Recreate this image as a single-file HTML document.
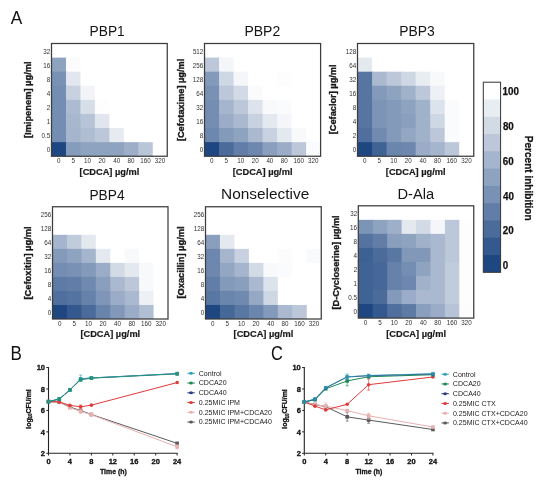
<!DOCTYPE html><html><head><meta charset="utf-8"><style>html,body{margin:0;padding:0;background:#fff;width:550px;height:480px;overflow:hidden}svg{display:block;will-change:transform}text{font-family:"Liberation Sans",sans-serif}</style></head><body>
<svg width="550" height="480" viewBox="0 0 550 480">
<rect width="550" height="480" fill="#fff"/>
<text x="10.80" y="23.75" font-size="19" font-weight="normal" fill="#111" textLength="11.54" lengthAdjust="spacingAndGlyphs" >A</text>
<text x="10.54" y="359.80" font-size="19.5" font-weight="normal" fill="#111" textLength="11.35" lengthAdjust="spacingAndGlyphs" >B</text>
<text x="271.08" y="359.70" font-size="19.5" font-weight="normal" fill="#111" textLength="11.83" lengthAdjust="spacingAndGlyphs" >C</text>
<clipPath id="cPBP1"><rect x="51.50" y="43.50" width="115.75" height="112.75"/></clipPath><g clip-path="url(#cPBP1)">
<rect x="51.50" y="43.50" width="15.47" height="15.09" fill="#ffffff"/>
<rect x="65.97" y="43.50" width="15.47" height="15.09" fill="#ffffff"/>
<rect x="80.44" y="43.50" width="15.47" height="15.09" fill="#ffffff"/>
<rect x="94.91" y="43.50" width="15.47" height="15.09" fill="#ffffff"/>
<rect x="109.38" y="43.50" width="15.47" height="15.09" fill="#ffffff"/>
<rect x="123.84" y="43.50" width="15.47" height="15.09" fill="#ffffff"/>
<rect x="138.31" y="43.50" width="15.47" height="15.09" fill="#ffffff"/>
<rect x="152.78" y="43.50" width="15.47" height="15.09" fill="#ffffff"/>
<rect x="51.50" y="57.59" width="15.47" height="15.09" fill="#8ea3c0"/>
<rect x="65.97" y="57.59" width="15.47" height="15.09" fill="#fcfcfd"/>
<rect x="80.44" y="57.59" width="15.47" height="15.09" fill="#ffffff"/>
<rect x="94.91" y="57.59" width="15.47" height="15.09" fill="#ffffff"/>
<rect x="109.38" y="57.59" width="15.47" height="15.09" fill="#ffffff"/>
<rect x="123.84" y="57.59" width="15.47" height="15.09" fill="#ffffff"/>
<rect x="138.31" y="57.59" width="15.47" height="15.09" fill="#ffffff"/>
<rect x="152.78" y="57.59" width="15.47" height="15.09" fill="#ffffff"/>
<rect x="51.50" y="71.69" width="15.47" height="15.09" fill="#7891b4"/>
<rect x="65.97" y="71.69" width="15.47" height="15.09" fill="#e2e7ef"/>
<rect x="80.44" y="71.69" width="15.47" height="15.09" fill="#ffffff"/>
<rect x="94.91" y="71.69" width="15.47" height="15.09" fill="#ffffff"/>
<rect x="109.38" y="71.69" width="15.47" height="15.09" fill="#ffffff"/>
<rect x="123.84" y="71.69" width="15.47" height="15.09" fill="#ffffff"/>
<rect x="138.31" y="71.69" width="15.47" height="15.09" fill="#ffffff"/>
<rect x="152.78" y="71.69" width="15.47" height="15.09" fill="#ffffff"/>
<rect x="51.50" y="85.78" width="15.47" height="15.09" fill="#748db2"/>
<rect x="65.97" y="85.78" width="15.47" height="15.09" fill="#c7d1e0"/>
<rect x="80.44" y="85.78" width="15.47" height="15.09" fill="#f2f4f8"/>
<rect x="94.91" y="85.78" width="15.47" height="15.09" fill="#ffffff"/>
<rect x="109.38" y="85.78" width="15.47" height="15.09" fill="#ffffff"/>
<rect x="123.84" y="85.78" width="15.47" height="15.09" fill="#ffffff"/>
<rect x="138.31" y="85.78" width="15.47" height="15.09" fill="#ffffff"/>
<rect x="152.78" y="85.78" width="15.47" height="15.09" fill="#ffffff"/>
<rect x="51.50" y="99.88" width="15.47" height="15.09" fill="#748db2"/>
<rect x="65.97" y="99.88" width="15.47" height="15.09" fill="#acbbd1"/>
<rect x="80.44" y="99.88" width="15.47" height="15.09" fill="#d6dee8"/>
<rect x="94.91" y="99.88" width="15.47" height="15.09" fill="#fdfdfe"/>
<rect x="109.38" y="99.88" width="15.47" height="15.09" fill="#ffffff"/>
<rect x="123.84" y="99.88" width="15.47" height="15.09" fill="#ffffff"/>
<rect x="138.31" y="99.88" width="15.47" height="15.09" fill="#ffffff"/>
<rect x="152.78" y="99.88" width="15.47" height="15.09" fill="#ffffff"/>
<rect x="51.50" y="113.97" width="15.47" height="15.09" fill="#748db2"/>
<rect x="65.97" y="113.97" width="15.47" height="15.09" fill="#a7b7ce"/>
<rect x="80.44" y="113.97" width="15.47" height="15.09" fill="#b7c4d7"/>
<rect x="94.91" y="113.97" width="15.47" height="15.09" fill="#e0e5ee"/>
<rect x="109.38" y="113.97" width="15.47" height="15.09" fill="#ffffff"/>
<rect x="123.84" y="113.97" width="15.47" height="15.09" fill="#ffffff"/>
<rect x="138.31" y="113.97" width="15.47" height="15.09" fill="#ffffff"/>
<rect x="152.78" y="113.97" width="15.47" height="15.09" fill="#ffffff"/>
<rect x="51.50" y="128.06" width="15.47" height="15.09" fill="#748db2"/>
<rect x="65.97" y="128.06" width="15.47" height="15.09" fill="#a5b5cd"/>
<rect x="80.44" y="128.06" width="15.47" height="15.09" fill="#aebdd2"/>
<rect x="94.91" y="128.06" width="15.47" height="15.09" fill="#bcc8da"/>
<rect x="109.38" y="128.06" width="15.47" height="15.09" fill="#e6ebf1"/>
<rect x="123.84" y="128.06" width="15.47" height="15.09" fill="#ffffff"/>
<rect x="138.31" y="128.06" width="15.47" height="15.09" fill="#ffffff"/>
<rect x="152.78" y="128.06" width="15.47" height="15.09" fill="#ffffff"/>
<rect x="51.50" y="142.16" width="15.47" height="15.09" fill="#1e4782"/>
<rect x="65.97" y="142.16" width="15.47" height="15.09" fill="#869cbc"/>
<rect x="80.44" y="142.16" width="15.47" height="15.09" fill="#8ea3c0"/>
<rect x="94.91" y="142.16" width="15.47" height="15.09" fill="#8ea3c0"/>
<rect x="109.38" y="142.16" width="15.47" height="15.09" fill="#8ea3c0"/>
<rect x="123.84" y="142.16" width="15.47" height="15.09" fill="#9caec8"/>
<rect x="138.31" y="142.16" width="15.47" height="15.09" fill="#b9c6d8"/>
<rect x="152.78" y="142.16" width="15.47" height="15.09" fill="#ffffff"/>
</g>
<rect x="51.50" y="43.50" width="115.75" height="112.75" fill="none" stroke="#3c3c3c" stroke-width="1.25"/>
<text x="89.60" y="35.55" font-size="15.2" font-weight="normal" fill="#151515" textLength="35.15" lengthAdjust="spacingAndGlyphs" >PBP1</text>
<text x="43.36" y="53.50" font-size="7.2" font-weight="normal" fill="#303030" textLength="6.97" lengthAdjust="spacingAndGlyphs" >32</text>
<text x="43.30" y="67.59" font-size="7.2" font-weight="normal" fill="#303030" textLength="6.97" lengthAdjust="spacingAndGlyphs" >16</text>
<text x="46.77" y="81.68" font-size="7.2" font-weight="normal" fill="#303030" textLength="3.48" lengthAdjust="spacingAndGlyphs" >8</text>
<text x="46.71" y="95.78" font-size="7.2" font-weight="normal" fill="#303030" textLength="3.48" lengthAdjust="spacingAndGlyphs" >4</text>
<text x="46.84" y="109.87" font-size="7.2" font-weight="normal" fill="#303030" textLength="3.48" lengthAdjust="spacingAndGlyphs" >2</text>
<text x="46.81" y="123.97" font-size="7.2" font-weight="normal" fill="#303030" textLength="3.48" lengthAdjust="spacingAndGlyphs" >1</text>
<text x="41.54" y="138.06" font-size="7.2" font-weight="normal" fill="#303030" textLength="8.71" lengthAdjust="spacingAndGlyphs" >0.5</text>
<text x="46.74" y="152.15" font-size="7.2" font-weight="normal" fill="#303030" textLength="3.48" lengthAdjust="spacingAndGlyphs" >0</text>
<text x="56.98" y="163.05" font-size="7.2" font-weight="normal" fill="#303030" textLength="3.48" lengthAdjust="spacingAndGlyphs" >0</text>
<text x="71.46" y="163.05" font-size="7.2" font-weight="normal" fill="#303030" textLength="3.48" lengthAdjust="spacingAndGlyphs" >5</text>
<text x="84.07" y="163.05" font-size="7.2" font-weight="normal" fill="#303030" textLength="6.97" lengthAdjust="spacingAndGlyphs" >10</text>
<text x="98.62" y="163.05" font-size="7.2" font-weight="normal" fill="#303030" textLength="6.97" lengthAdjust="spacingAndGlyphs" >20</text>
<text x="113.18" y="163.05" font-size="7.2" font-weight="normal" fill="#303030" textLength="6.97" lengthAdjust="spacingAndGlyphs" >40</text>
<text x="127.57" y="163.05" font-size="7.2" font-weight="normal" fill="#303030" textLength="6.97" lengthAdjust="spacingAndGlyphs" >80</text>
<text x="140.21" y="163.05" font-size="7.2" font-weight="normal" fill="#303030" textLength="10.45" lengthAdjust="spacingAndGlyphs" >160</text>
<text x="154.79" y="163.05" font-size="7.2" font-weight="normal" fill="#303030" textLength="10.45" lengthAdjust="spacingAndGlyphs" >320</text>
<text x="79.57" y="174.65" font-size="8.7" font-weight="bold" fill="#1a1a1a" textLength="59.75" lengthAdjust="spacingAndGlyphs" stroke="#1a1a1a" stroke-width="0.2">[CDCA] µg/ml</text>
<text x="31.10" y="138.11" font-size="8.3" font-weight="bold" fill="#1a1a1a" textLength="76.75" lengthAdjust="spacingAndGlyphs" transform="rotate(-90 31.10 138.11)" stroke="#1a1a1a" stroke-width="0.35">[Imipenem] µg/ml</text>
<clipPath id="cPBP2"><rect x="204.50" y="43.50" width="116.10" height="112.75"/></clipPath><g clip-path="url(#cPBP2)">
<rect x="204.50" y="43.50" width="15.51" height="15.09" fill="#ffffff"/>
<rect x="219.01" y="43.50" width="15.51" height="15.09" fill="#ffffff"/>
<rect x="233.53" y="43.50" width="15.51" height="15.09" fill="#ffffff"/>
<rect x="248.04" y="43.50" width="15.51" height="15.09" fill="#ffffff"/>
<rect x="262.55" y="43.50" width="15.51" height="15.09" fill="#ffffff"/>
<rect x="277.06" y="43.50" width="15.51" height="15.09" fill="#ffffff"/>
<rect x="291.58" y="43.50" width="15.51" height="15.09" fill="#ffffff"/>
<rect x="306.09" y="43.50" width="15.51" height="15.09" fill="#ffffff"/>
<rect x="204.50" y="57.59" width="15.51" height="15.09" fill="#bcc8da"/>
<rect x="219.01" y="57.59" width="15.51" height="15.09" fill="#f4f6f9"/>
<rect x="233.53" y="57.59" width="15.51" height="15.09" fill="#ffffff"/>
<rect x="248.04" y="57.59" width="15.51" height="15.09" fill="#ffffff"/>
<rect x="262.55" y="57.59" width="15.51" height="15.09" fill="#ffffff"/>
<rect x="277.06" y="57.59" width="15.51" height="15.09" fill="#ffffff"/>
<rect x="291.58" y="57.59" width="15.51" height="15.09" fill="#ffffff"/>
<rect x="306.09" y="57.59" width="15.51" height="15.09" fill="#ffffff"/>
<rect x="204.50" y="71.69" width="15.51" height="15.09" fill="#839aba"/>
<rect x="219.01" y="71.69" width="15.51" height="15.09" fill="#ced7e4"/>
<rect x="233.53" y="71.69" width="15.51" height="15.09" fill="#f4f6f9"/>
<rect x="248.04" y="71.69" width="15.51" height="15.09" fill="#ffffff"/>
<rect x="262.55" y="71.69" width="15.51" height="15.09" fill="#ffffff"/>
<rect x="277.06" y="71.69" width="15.51" height="15.09" fill="#fdfdfe"/>
<rect x="291.58" y="71.69" width="15.51" height="15.09" fill="#ffffff"/>
<rect x="306.09" y="71.69" width="15.51" height="15.09" fill="#ffffff"/>
<rect x="204.50" y="85.78" width="15.51" height="15.09" fill="#7891b4"/>
<rect x="219.01" y="85.78" width="15.51" height="15.09" fill="#bcc8da"/>
<rect x="233.53" y="85.78" width="15.51" height="15.09" fill="#d2dae6"/>
<rect x="248.04" y="85.78" width="15.51" height="15.09" fill="#fafbfc"/>
<rect x="262.55" y="85.78" width="15.51" height="15.09" fill="#ffffff"/>
<rect x="277.06" y="85.78" width="15.51" height="15.09" fill="#ffffff"/>
<rect x="291.58" y="85.78" width="15.51" height="15.09" fill="#ffffff"/>
<rect x="306.09" y="85.78" width="15.51" height="15.09" fill="#ffffff"/>
<rect x="204.50" y="99.88" width="15.51" height="15.09" fill="#748db2"/>
<rect x="219.01" y="99.88" width="15.51" height="15.09" fill="#a5b5cd"/>
<rect x="233.53" y="99.88" width="15.51" height="15.09" fill="#bcc8da"/>
<rect x="248.04" y="99.88" width="15.51" height="15.09" fill="#dde3ec"/>
<rect x="262.55" y="99.88" width="15.51" height="15.09" fill="#f8f9fb"/>
<rect x="277.06" y="99.88" width="15.51" height="15.09" fill="#fafbfc"/>
<rect x="291.58" y="99.88" width="15.51" height="15.09" fill="#ffffff"/>
<rect x="306.09" y="99.88" width="15.51" height="15.09" fill="#ffffff"/>
<rect x="204.50" y="113.97" width="15.51" height="15.09" fill="#748db2"/>
<rect x="219.01" y="113.97" width="15.51" height="15.09" fill="#9aacc7"/>
<rect x="233.53" y="113.97" width="15.51" height="15.09" fill="#aab9d0"/>
<rect x="248.04" y="113.97" width="15.51" height="15.09" fill="#c7d1e0"/>
<rect x="262.55" y="113.97" width="15.51" height="15.09" fill="#e4e9f0"/>
<rect x="277.06" y="113.97" width="15.51" height="15.09" fill="#f4f6f9"/>
<rect x="291.58" y="113.97" width="15.51" height="15.09" fill="#ffffff"/>
<rect x="306.09" y="113.97" width="15.51" height="15.09" fill="#ffffff"/>
<rect x="204.50" y="128.06" width="15.51" height="15.09" fill="#6d87ae"/>
<rect x="219.01" y="128.06" width="15.51" height="15.09" fill="#839aba"/>
<rect x="233.53" y="128.06" width="15.51" height="15.09" fill="#8ea3c0"/>
<rect x="248.04" y="128.06" width="15.51" height="15.09" fill="#aab9d0"/>
<rect x="262.55" y="128.06" width="15.51" height="15.09" fill="#c7d1e0"/>
<rect x="277.06" y="128.06" width="15.51" height="15.09" fill="#e4e9f0"/>
<rect x="291.58" y="128.06" width="15.51" height="15.09" fill="#f8f9fb"/>
<rect x="306.09" y="128.06" width="15.51" height="15.09" fill="#ffffff"/>
<rect x="204.50" y="142.16" width="15.51" height="15.09" fill="#1e4782"/>
<rect x="219.01" y="142.16" width="15.51" height="15.09" fill="#4b6c9b"/>
<rect x="233.53" y="142.16" width="15.51" height="15.09" fill="#627ea8"/>
<rect x="248.04" y="142.16" width="15.51" height="15.09" fill="#6d87ae"/>
<rect x="262.55" y="142.16" width="15.51" height="15.09" fill="#8a9fbe"/>
<rect x="277.06" y="142.16" width="15.51" height="15.09" fill="#9aacc7"/>
<rect x="291.58" y="142.16" width="15.51" height="15.09" fill="#bcc8da"/>
<rect x="306.09" y="142.16" width="15.51" height="15.09" fill="#fafbfc"/>
</g>
<rect x="204.50" y="43.50" width="116.10" height="112.75" fill="none" stroke="#3c3c3c" stroke-width="1.25"/>
<text x="244.38" y="36.00" font-size="15.2" font-weight="normal" fill="#151515" textLength="35.85" lengthAdjust="spacingAndGlyphs" >PBP2</text>
<text x="192.88" y="53.50" font-size="7.2" font-weight="normal" fill="#303030" textLength="10.45" lengthAdjust="spacingAndGlyphs" >512</text>
<text x="192.82" y="67.59" font-size="7.2" font-weight="normal" fill="#303030" textLength="10.45" lengthAdjust="spacingAndGlyphs" >256</text>
<text x="192.82" y="81.68" font-size="7.2" font-weight="normal" fill="#303030" textLength="10.45" lengthAdjust="spacingAndGlyphs" >128</text>
<text x="196.23" y="95.78" font-size="7.2" font-weight="normal" fill="#303030" textLength="6.97" lengthAdjust="spacingAndGlyphs" >64</text>
<text x="196.36" y="109.87" font-size="7.2" font-weight="normal" fill="#303030" textLength="6.97" lengthAdjust="spacingAndGlyphs" >32</text>
<text x="196.30" y="123.97" font-size="7.2" font-weight="normal" fill="#303030" textLength="6.97" lengthAdjust="spacingAndGlyphs" >16</text>
<text x="199.77" y="138.06" font-size="7.2" font-weight="normal" fill="#303030" textLength="3.48" lengthAdjust="spacingAndGlyphs" >8</text>
<text x="199.74" y="152.15" font-size="7.2" font-weight="normal" fill="#303030" textLength="3.48" lengthAdjust="spacingAndGlyphs" >0</text>
<text x="210.00" y="163.05" font-size="7.2" font-weight="normal" fill="#303030" textLength="3.48" lengthAdjust="spacingAndGlyphs" >0</text>
<text x="224.53" y="163.05" font-size="7.2" font-weight="normal" fill="#303030" textLength="3.48" lengthAdjust="spacingAndGlyphs" >5</text>
<text x="237.18" y="163.05" font-size="7.2" font-weight="normal" fill="#303030" textLength="6.97" lengthAdjust="spacingAndGlyphs" >10</text>
<text x="251.77" y="163.05" font-size="7.2" font-weight="normal" fill="#303030" textLength="6.97" lengthAdjust="spacingAndGlyphs" >20</text>
<text x="266.38" y="163.05" font-size="7.2" font-weight="normal" fill="#303030" textLength="6.97" lengthAdjust="spacingAndGlyphs" >40</text>
<text x="280.81" y="163.05" font-size="7.2" font-weight="normal" fill="#303030" textLength="6.97" lengthAdjust="spacingAndGlyphs" >80</text>
<text x="293.49" y="163.05" font-size="7.2" font-weight="normal" fill="#303030" textLength="10.45" lengthAdjust="spacingAndGlyphs" >160</text>
<text x="308.11" y="163.05" font-size="7.2" font-weight="normal" fill="#303030" textLength="10.45" lengthAdjust="spacingAndGlyphs" >320</text>
<text x="232.74" y="174.65" font-size="8.7" font-weight="bold" fill="#1a1a1a" textLength="59.75" lengthAdjust="spacingAndGlyphs" stroke="#1a1a1a" stroke-width="0.2">[CDCA] µg/ml</text>
<text x="184.10" y="141.10" font-size="8.3" font-weight="bold" fill="#1a1a1a" textLength="82.32" lengthAdjust="spacingAndGlyphs" transform="rotate(-90 184.10 141.10)" stroke="#1a1a1a" stroke-width="0.35">[Cefotaxime] µg/ml</text>
<clipPath id="cPBP3"><rect x="357.50" y="43.50" width="116.25" height="112.75"/></clipPath><g clip-path="url(#cPBP3)">
<rect x="357.50" y="43.50" width="15.53" height="15.09" fill="#ffffff"/>
<rect x="372.03" y="43.50" width="15.53" height="15.09" fill="#ffffff"/>
<rect x="386.56" y="43.50" width="15.53" height="15.09" fill="#ffffff"/>
<rect x="401.09" y="43.50" width="15.53" height="15.09" fill="#ffffff"/>
<rect x="415.62" y="43.50" width="15.53" height="15.09" fill="#ffffff"/>
<rect x="430.16" y="43.50" width="15.53" height="15.09" fill="#ffffff"/>
<rect x="444.69" y="43.50" width="15.53" height="15.09" fill="#ffffff"/>
<rect x="459.22" y="43.50" width="15.53" height="15.09" fill="#ffffff"/>
<rect x="357.50" y="57.59" width="15.53" height="15.09" fill="#e4e9f0"/>
<rect x="372.03" y="57.59" width="15.53" height="15.09" fill="#ffffff"/>
<rect x="386.56" y="57.59" width="15.53" height="15.09" fill="#ffffff"/>
<rect x="401.09" y="57.59" width="15.53" height="15.09" fill="#ffffff"/>
<rect x="415.62" y="57.59" width="15.53" height="15.09" fill="#ffffff"/>
<rect x="430.16" y="57.59" width="15.53" height="15.09" fill="#ffffff"/>
<rect x="444.69" y="57.59" width="15.53" height="15.09" fill="#ffffff"/>
<rect x="459.22" y="57.59" width="15.53" height="15.09" fill="#ffffff"/>
<rect x="357.50" y="71.69" width="15.53" height="15.09" fill="#5675a1"/>
<rect x="372.03" y="71.69" width="15.53" height="15.09" fill="#aab9d0"/>
<rect x="386.56" y="71.69" width="15.53" height="15.09" fill="#bcc8da"/>
<rect x="401.09" y="71.69" width="15.53" height="15.09" fill="#ced7e4"/>
<rect x="415.62" y="71.69" width="15.53" height="15.09" fill="#e8edf2"/>
<rect x="430.16" y="71.69" width="15.53" height="15.09" fill="#f8f9fb"/>
<rect x="444.69" y="71.69" width="15.53" height="15.09" fill="#ffffff"/>
<rect x="459.22" y="71.69" width="15.53" height="15.09" fill="#ffffff"/>
<rect x="357.50" y="85.78" width="15.53" height="15.09" fill="#5675a1"/>
<rect x="372.03" y="85.78" width="15.53" height="15.09" fill="#839aba"/>
<rect x="386.56" y="85.78" width="15.53" height="15.09" fill="#8ea3c0"/>
<rect x="401.09" y="85.78" width="15.53" height="15.09" fill="#a0b2ca"/>
<rect x="415.62" y="85.78" width="15.53" height="15.09" fill="#bcc8da"/>
<rect x="430.16" y="85.78" width="15.53" height="15.09" fill="#edf0f5"/>
<rect x="444.69" y="85.78" width="15.53" height="15.09" fill="#ffffff"/>
<rect x="459.22" y="85.78" width="15.53" height="15.09" fill="#ffffff"/>
<rect x="357.50" y="99.88" width="15.53" height="15.09" fill="#5675a1"/>
<rect x="372.03" y="99.88" width="15.53" height="15.09" fill="#7c94b6"/>
<rect x="386.56" y="99.88" width="15.53" height="15.09" fill="#839aba"/>
<rect x="401.09" y="99.88" width="15.53" height="15.09" fill="#8ea3c0"/>
<rect x="415.62" y="99.88" width="15.53" height="15.09" fill="#a0b2ca"/>
<rect x="430.16" y="99.88" width="15.53" height="15.09" fill="#dde3ec"/>
<rect x="444.69" y="99.88" width="15.53" height="15.09" fill="#fafbfc"/>
<rect x="459.22" y="99.88" width="15.53" height="15.09" fill="#ffffff"/>
<rect x="357.50" y="113.97" width="15.53" height="15.09" fill="#5675a1"/>
<rect x="372.03" y="113.97" width="15.53" height="15.09" fill="#7c94b6"/>
<rect x="386.56" y="113.97" width="15.53" height="15.09" fill="#839aba"/>
<rect x="401.09" y="113.97" width="15.53" height="15.09" fill="#8a9fbe"/>
<rect x="415.62" y="113.97" width="15.53" height="15.09" fill="#a0b2ca"/>
<rect x="430.16" y="113.97" width="15.53" height="15.09" fill="#ced7e4"/>
<rect x="444.69" y="113.97" width="15.53" height="15.09" fill="#fafbfc"/>
<rect x="459.22" y="113.97" width="15.53" height="15.09" fill="#ffffff"/>
<rect x="357.50" y="128.06" width="15.53" height="15.09" fill="#506f9e"/>
<rect x="372.03" y="128.06" width="15.53" height="15.09" fill="#718bb0"/>
<rect x="386.56" y="128.06" width="15.53" height="15.09" fill="#839aba"/>
<rect x="401.09" y="128.06" width="15.53" height="15.09" fill="#93a7c3"/>
<rect x="415.62" y="128.06" width="15.53" height="15.09" fill="#a0b2ca"/>
<rect x="430.16" y="128.06" width="15.53" height="15.09" fill="#bcc8da"/>
<rect x="444.69" y="128.06" width="15.53" height="15.09" fill="#fafbfc"/>
<rect x="459.22" y="128.06" width="15.53" height="15.09" fill="#ffffff"/>
<rect x="357.50" y="142.16" width="15.53" height="15.09" fill="#1e4782"/>
<rect x="372.03" y="142.16" width="15.53" height="15.09" fill="#406395"/>
<rect x="386.56" y="142.16" width="15.53" height="15.09" fill="#6a86ac"/>
<rect x="401.09" y="142.16" width="15.53" height="15.09" fill="#6d87ae"/>
<rect x="415.62" y="142.16" width="15.53" height="15.09" fill="#9aacc7"/>
<rect x="430.16" y="142.16" width="15.53" height="15.09" fill="#a5b5cd"/>
<rect x="444.69" y="142.16" width="15.53" height="15.09" fill="#bcc8da"/>
<rect x="459.22" y="142.16" width="15.53" height="15.09" fill="#ffffff"/>
</g>
<rect x="357.50" y="43.50" width="116.25" height="112.75" fill="none" stroke="#3c3c3c" stroke-width="1.25"/>
<text x="399.29" y="36.00" font-size="15.2" font-weight="normal" fill="#151515" textLength="35.50" lengthAdjust="spacingAndGlyphs" >PBP3</text>
<text x="345.82" y="53.50" font-size="7.2" font-weight="normal" fill="#303030" textLength="10.45" lengthAdjust="spacingAndGlyphs" >128</text>
<text x="349.23" y="67.59" font-size="7.2" font-weight="normal" fill="#303030" textLength="6.97" lengthAdjust="spacingAndGlyphs" >64</text>
<text x="349.36" y="81.68" font-size="7.2" font-weight="normal" fill="#303030" textLength="6.97" lengthAdjust="spacingAndGlyphs" >32</text>
<text x="349.30" y="95.78" font-size="7.2" font-weight="normal" fill="#303030" textLength="6.97" lengthAdjust="spacingAndGlyphs" >16</text>
<text x="352.77" y="109.87" font-size="7.2" font-weight="normal" fill="#303030" textLength="3.48" lengthAdjust="spacingAndGlyphs" >8</text>
<text x="352.71" y="123.97" font-size="7.2" font-weight="normal" fill="#303030" textLength="3.48" lengthAdjust="spacingAndGlyphs" >4</text>
<text x="352.84" y="138.06" font-size="7.2" font-weight="normal" fill="#303030" textLength="3.48" lengthAdjust="spacingAndGlyphs" >2</text>
<text x="352.74" y="152.15" font-size="7.2" font-weight="normal" fill="#303030" textLength="3.48" lengthAdjust="spacingAndGlyphs" >0</text>
<text x="363.01" y="163.05" font-size="7.2" font-weight="normal" fill="#303030" textLength="3.48" lengthAdjust="spacingAndGlyphs" >0</text>
<text x="377.56" y="163.05" font-size="7.2" font-weight="normal" fill="#303030" textLength="3.48" lengthAdjust="spacingAndGlyphs" >5</text>
<text x="390.23" y="163.05" font-size="7.2" font-weight="normal" fill="#303030" textLength="6.97" lengthAdjust="spacingAndGlyphs" >10</text>
<text x="404.84" y="163.05" font-size="7.2" font-weight="normal" fill="#303030" textLength="6.97" lengthAdjust="spacingAndGlyphs" >20</text>
<text x="419.46" y="163.05" font-size="7.2" font-weight="normal" fill="#303030" textLength="6.97" lengthAdjust="spacingAndGlyphs" >40</text>
<text x="433.91" y="163.05" font-size="7.2" font-weight="normal" fill="#303030" textLength="6.97" lengthAdjust="spacingAndGlyphs" >80</text>
<text x="446.61" y="163.05" font-size="7.2" font-weight="normal" fill="#303030" textLength="10.45" lengthAdjust="spacingAndGlyphs" >160</text>
<text x="461.25" y="163.05" font-size="7.2" font-weight="normal" fill="#303030" textLength="10.45" lengthAdjust="spacingAndGlyphs" >320</text>
<text x="385.82" y="174.65" font-size="8.7" font-weight="bold" fill="#1a1a1a" textLength="59.75" lengthAdjust="spacingAndGlyphs" stroke="#1a1a1a" stroke-width="0.2">[CDCA] µg/ml</text>
<text x="336.20" y="134.26" font-size="8.3" font-weight="bold" fill="#1a1a1a" textLength="69.88" lengthAdjust="spacingAndGlyphs" transform="rotate(-90 336.20 134.26)" stroke="#1a1a1a" stroke-width="0.35">[Cefaclor] µg/ml</text>
<clipPath id="cPBP4"><rect x="52.50" y="206.75" width="115.50" height="112.25"/></clipPath><g clip-path="url(#cPBP4)">
<rect x="52.50" y="206.75" width="15.44" height="15.03" fill="#ffffff"/>
<rect x="66.94" y="206.75" width="15.44" height="15.03" fill="#ffffff"/>
<rect x="81.38" y="206.75" width="15.44" height="15.03" fill="#ffffff"/>
<rect x="95.81" y="206.75" width="15.44" height="15.03" fill="#ffffff"/>
<rect x="110.25" y="206.75" width="15.44" height="15.03" fill="#ffffff"/>
<rect x="124.69" y="206.75" width="15.44" height="15.03" fill="#ffffff"/>
<rect x="139.12" y="206.75" width="15.44" height="15.03" fill="#ffffff"/>
<rect x="153.56" y="206.75" width="15.44" height="15.03" fill="#ffffff"/>
<rect x="52.50" y="220.78" width="15.44" height="15.03" fill="#ffffff"/>
<rect x="66.94" y="220.78" width="15.44" height="15.03" fill="#ffffff"/>
<rect x="81.38" y="220.78" width="15.44" height="15.03" fill="#ffffff"/>
<rect x="95.81" y="220.78" width="15.44" height="15.03" fill="#ffffff"/>
<rect x="110.25" y="220.78" width="15.44" height="15.03" fill="#ffffff"/>
<rect x="124.69" y="220.78" width="15.44" height="15.03" fill="#ffffff"/>
<rect x="139.12" y="220.78" width="15.44" height="15.03" fill="#ffffff"/>
<rect x="153.56" y="220.78" width="15.44" height="15.03" fill="#ffffff"/>
<rect x="52.50" y="234.81" width="15.44" height="15.03" fill="#a5b5cd"/>
<rect x="66.94" y="234.81" width="15.44" height="15.03" fill="#c0cbdc"/>
<rect x="81.38" y="234.81" width="15.44" height="15.03" fill="#e4e9f0"/>
<rect x="95.81" y="234.81" width="15.44" height="15.03" fill="#ffffff"/>
<rect x="110.25" y="234.81" width="15.44" height="15.03" fill="#ffffff"/>
<rect x="124.69" y="234.81" width="15.44" height="15.03" fill="#ffffff"/>
<rect x="139.12" y="234.81" width="15.44" height="15.03" fill="#ffffff"/>
<rect x="153.56" y="234.81" width="15.44" height="15.03" fill="#ffffff"/>
<rect x="52.50" y="248.84" width="15.44" height="15.03" fill="#839aba"/>
<rect x="66.94" y="248.84" width="15.44" height="15.03" fill="#8ea3c0"/>
<rect x="81.38" y="248.84" width="15.44" height="15.03" fill="#a5b5cd"/>
<rect x="95.81" y="248.84" width="15.44" height="15.03" fill="#e4e9f0"/>
<rect x="110.25" y="248.84" width="15.44" height="15.03" fill="#ffffff"/>
<rect x="124.69" y="248.84" width="15.44" height="15.03" fill="#f8f9fb"/>
<rect x="139.12" y="248.84" width="15.44" height="15.03" fill="#ffffff"/>
<rect x="153.56" y="248.84" width="15.44" height="15.03" fill="#ffffff"/>
<rect x="52.50" y="262.88" width="15.44" height="15.03" fill="#748db2"/>
<rect x="66.94" y="262.88" width="15.44" height="15.03" fill="#7891b4"/>
<rect x="81.38" y="262.88" width="15.44" height="15.03" fill="#839aba"/>
<rect x="95.81" y="262.88" width="15.44" height="15.03" fill="#9aacc7"/>
<rect x="110.25" y="262.88" width="15.44" height="15.03" fill="#d2dae6"/>
<rect x="124.69" y="262.88" width="15.44" height="15.03" fill="#e4e9f0"/>
<rect x="139.12" y="262.88" width="15.44" height="15.03" fill="#f8f9fb"/>
<rect x="153.56" y="262.88" width="15.44" height="15.03" fill="#ffffff"/>
<rect x="52.50" y="276.91" width="15.44" height="15.03" fill="#5d7ba5"/>
<rect x="66.94" y="276.91" width="15.44" height="15.03" fill="#627ea8"/>
<rect x="81.38" y="276.91" width="15.44" height="15.03" fill="#6f89af"/>
<rect x="95.81" y="276.91" width="15.44" height="15.03" fill="#8a9fbe"/>
<rect x="110.25" y="276.91" width="15.44" height="15.03" fill="#aab9d0"/>
<rect x="124.69" y="276.91" width="15.44" height="15.03" fill="#bcc8da"/>
<rect x="139.12" y="276.91" width="15.44" height="15.03" fill="#f8f9fb"/>
<rect x="153.56" y="276.91" width="15.44" height="15.03" fill="#ffffff"/>
<rect x="52.50" y="290.94" width="15.44" height="15.03" fill="#506f9e"/>
<rect x="66.94" y="290.94" width="15.44" height="15.03" fill="#5473a0"/>
<rect x="81.38" y="290.94" width="15.44" height="15.03" fill="#6682aa"/>
<rect x="95.81" y="290.94" width="15.44" height="15.03" fill="#7f96b8"/>
<rect x="110.25" y="290.94" width="15.44" height="15.03" fill="#9aacc7"/>
<rect x="124.69" y="290.94" width="15.44" height="15.03" fill="#aab9d0"/>
<rect x="139.12" y="290.94" width="15.44" height="15.03" fill="#edf0f5"/>
<rect x="153.56" y="290.94" width="15.44" height="15.03" fill="#ffffff"/>
<rect x="52.50" y="304.97" width="15.44" height="15.03" fill="#1e4782"/>
<rect x="66.94" y="304.97" width="15.44" height="15.03" fill="#34598e"/>
<rect x="81.38" y="304.97" width="15.44" height="15.03" fill="#4b6c9b"/>
<rect x="95.81" y="304.97" width="15.44" height="15.03" fill="#6884ab"/>
<rect x="110.25" y="304.97" width="15.44" height="15.03" fill="#8198b9"/>
<rect x="124.69" y="304.97" width="15.44" height="15.03" fill="#9aacc7"/>
<rect x="139.12" y="304.97" width="15.44" height="15.03" fill="#b0bfd3"/>
<rect x="153.56" y="304.97" width="15.44" height="15.03" fill="#ffffff"/>
</g>
<rect x="52.50" y="206.75" width="115.50" height="112.25" fill="none" stroke="#3c3c3c" stroke-width="1.25"/>
<text x="89.40" y="199.50" font-size="15.2" font-weight="normal" fill="#151515" textLength="35.14" lengthAdjust="spacingAndGlyphs" >PBP4</text>
<text x="40.82" y="216.72" font-size="7.2" font-weight="normal" fill="#303030" textLength="10.45" lengthAdjust="spacingAndGlyphs" >256</text>
<text x="40.82" y="230.75" font-size="7.2" font-weight="normal" fill="#303030" textLength="10.45" lengthAdjust="spacingAndGlyphs" >128</text>
<text x="44.23" y="244.78" font-size="7.2" font-weight="normal" fill="#303030" textLength="6.97" lengthAdjust="spacingAndGlyphs" >64</text>
<text x="44.36" y="258.81" font-size="7.2" font-weight="normal" fill="#303030" textLength="6.97" lengthAdjust="spacingAndGlyphs" >32</text>
<text x="44.30" y="272.84" font-size="7.2" font-weight="normal" fill="#303030" textLength="6.97" lengthAdjust="spacingAndGlyphs" >16</text>
<text x="47.77" y="286.87" font-size="7.2" font-weight="normal" fill="#303030" textLength="3.48" lengthAdjust="spacingAndGlyphs" >8</text>
<text x="47.71" y="300.90" font-size="7.2" font-weight="normal" fill="#303030" textLength="3.48" lengthAdjust="spacingAndGlyphs" >4</text>
<text x="47.74" y="314.93" font-size="7.2" font-weight="normal" fill="#303030" textLength="3.48" lengthAdjust="spacingAndGlyphs" >0</text>
<text x="57.96" y="325.80" font-size="7.2" font-weight="normal" fill="#303030" textLength="3.48" lengthAdjust="spacingAndGlyphs" >0</text>
<text x="72.42" y="325.80" font-size="7.2" font-weight="normal" fill="#303030" textLength="3.48" lengthAdjust="spacingAndGlyphs" >5</text>
<text x="84.99" y="325.80" font-size="7.2" font-weight="normal" fill="#303030" textLength="6.97" lengthAdjust="spacingAndGlyphs" >10</text>
<text x="99.51" y="325.80" font-size="7.2" font-weight="normal" fill="#303030" textLength="6.97" lengthAdjust="spacingAndGlyphs" >20</text>
<text x="114.04" y="325.80" font-size="7.2" font-weight="normal" fill="#303030" textLength="6.97" lengthAdjust="spacingAndGlyphs" >40</text>
<text x="128.40" y="325.80" font-size="7.2" font-weight="normal" fill="#303030" textLength="6.97" lengthAdjust="spacingAndGlyphs" >80</text>
<text x="141.00" y="325.80" font-size="7.2" font-weight="normal" fill="#303030" textLength="10.45" lengthAdjust="spacingAndGlyphs" >160</text>
<text x="155.55" y="325.80" font-size="7.2" font-weight="normal" fill="#303030" textLength="10.45" lengthAdjust="spacingAndGlyphs" >320</text>
<text x="80.44" y="337.40" font-size="8.7" font-weight="bold" fill="#1a1a1a" textLength="59.75" lengthAdjust="spacingAndGlyphs" stroke="#1a1a1a" stroke-width="0.2">[CDCA] µg/ml</text>
<text x="31.10" y="299.51" font-size="8.3" font-weight="bold" fill="#1a1a1a" textLength="73.15" lengthAdjust="spacingAndGlyphs" transform="rotate(-90 31.10 299.51)" stroke="#1a1a1a" stroke-width="0.35">[Cefoxitin] µg/ml</text>
<clipPath id="cNonselective"><rect x="205.50" y="206.75" width="115.75" height="112.25"/></clipPath><g clip-path="url(#cNonselective)">
<rect x="205.50" y="206.75" width="15.47" height="15.03" fill="#ffffff"/>
<rect x="219.97" y="206.75" width="15.47" height="15.03" fill="#ffffff"/>
<rect x="234.44" y="206.75" width="15.47" height="15.03" fill="#ffffff"/>
<rect x="248.91" y="206.75" width="15.47" height="15.03" fill="#ffffff"/>
<rect x="263.38" y="206.75" width="15.47" height="15.03" fill="#ffffff"/>
<rect x="277.84" y="206.75" width="15.47" height="15.03" fill="#ffffff"/>
<rect x="292.31" y="206.75" width="15.47" height="15.03" fill="#ffffff"/>
<rect x="306.78" y="206.75" width="15.47" height="15.03" fill="#ffffff"/>
<rect x="205.50" y="220.78" width="15.47" height="15.03" fill="#ffffff"/>
<rect x="219.97" y="220.78" width="15.47" height="15.03" fill="#ffffff"/>
<rect x="234.44" y="220.78" width="15.47" height="15.03" fill="#ffffff"/>
<rect x="248.91" y="220.78" width="15.47" height="15.03" fill="#ffffff"/>
<rect x="263.38" y="220.78" width="15.47" height="15.03" fill="#ffffff"/>
<rect x="277.84" y="220.78" width="15.47" height="15.03" fill="#ffffff"/>
<rect x="292.31" y="220.78" width="15.47" height="15.03" fill="#ffffff"/>
<rect x="306.78" y="220.78" width="15.47" height="15.03" fill="#ffffff"/>
<rect x="205.50" y="234.81" width="15.47" height="15.03" fill="#8a9fbe"/>
<rect x="219.97" y="234.81" width="15.47" height="15.03" fill="#e4e9f0"/>
<rect x="234.44" y="234.81" width="15.47" height="15.03" fill="#ffffff"/>
<rect x="248.91" y="234.81" width="15.47" height="15.03" fill="#ffffff"/>
<rect x="263.38" y="234.81" width="15.47" height="15.03" fill="#ffffff"/>
<rect x="277.84" y="234.81" width="15.47" height="15.03" fill="#ffffff"/>
<rect x="292.31" y="234.81" width="15.47" height="15.03" fill="#ffffff"/>
<rect x="306.78" y="234.81" width="15.47" height="15.03" fill="#ffffff"/>
<rect x="205.50" y="248.84" width="15.47" height="15.03" fill="#6d87ae"/>
<rect x="219.97" y="248.84" width="15.47" height="15.03" fill="#a5b5cd"/>
<rect x="234.44" y="248.84" width="15.47" height="15.03" fill="#c7d1e0"/>
<rect x="248.91" y="248.84" width="15.47" height="15.03" fill="#ffffff"/>
<rect x="263.38" y="248.84" width="15.47" height="15.03" fill="#ffffff"/>
<rect x="277.84" y="248.84" width="15.47" height="15.03" fill="#fcfcfd"/>
<rect x="292.31" y="248.84" width="15.47" height="15.03" fill="#ffffff"/>
<rect x="306.78" y="248.84" width="15.47" height="15.03" fill="#f9fafc"/>
<rect x="205.50" y="262.88" width="15.47" height="15.03" fill="#6d87ae"/>
<rect x="219.97" y="262.88" width="15.47" height="15.03" fill="#93a7c3"/>
<rect x="234.44" y="262.88" width="15.47" height="15.03" fill="#a5b5cd"/>
<rect x="248.91" y="262.88" width="15.47" height="15.03" fill="#d2dae6"/>
<rect x="263.38" y="262.88" width="15.47" height="15.03" fill="#f8f9fb"/>
<rect x="277.84" y="262.88" width="15.47" height="15.03" fill="#fafbfc"/>
<rect x="292.31" y="262.88" width="15.47" height="15.03" fill="#ffffff"/>
<rect x="306.78" y="262.88" width="15.47" height="15.03" fill="#ffffff"/>
<rect x="205.50" y="276.91" width="15.47" height="15.03" fill="#627ea8"/>
<rect x="219.97" y="276.91" width="15.47" height="15.03" fill="#839aba"/>
<rect x="234.44" y="276.91" width="15.47" height="15.03" fill="#8a9fbe"/>
<rect x="248.91" y="276.91" width="15.47" height="15.03" fill="#aab9d0"/>
<rect x="263.38" y="276.91" width="15.47" height="15.03" fill="#dde3ec"/>
<rect x="277.84" y="276.91" width="15.47" height="15.03" fill="#ffffff"/>
<rect x="292.31" y="276.91" width="15.47" height="15.03" fill="#ffffff"/>
<rect x="306.78" y="276.91" width="15.47" height="15.03" fill="#ffffff"/>
<rect x="205.50" y="290.94" width="15.47" height="15.03" fill="#5877a2"/>
<rect x="219.97" y="290.94" width="15.47" height="15.03" fill="#6a86ac"/>
<rect x="234.44" y="290.94" width="15.47" height="15.03" fill="#6f89af"/>
<rect x="248.91" y="290.94" width="15.47" height="15.03" fill="#95a9c4"/>
<rect x="263.38" y="290.94" width="15.47" height="15.03" fill="#ced7e4"/>
<rect x="277.84" y="290.94" width="15.47" height="15.03" fill="#ffffff"/>
<rect x="292.31" y="290.94" width="15.47" height="15.03" fill="#ffffff"/>
<rect x="306.78" y="290.94" width="15.47" height="15.03" fill="#ffffff"/>
<rect x="205.50" y="304.97" width="15.47" height="15.03" fill="#1e4782"/>
<rect x="219.97" y="304.97" width="15.47" height="15.03" fill="#466898"/>
<rect x="234.44" y="304.97" width="15.47" height="15.03" fill="#5877a2"/>
<rect x="248.91" y="304.97" width="15.47" height="15.03" fill="#6a86ac"/>
<rect x="263.38" y="304.97" width="15.47" height="15.03" fill="#839aba"/>
<rect x="277.84" y="304.97" width="15.47" height="15.03" fill="#aab9d0"/>
<rect x="292.31" y="304.97" width="15.47" height="15.03" fill="#bcc8da"/>
<rect x="306.78" y="304.97" width="15.47" height="15.03" fill="#ffffff"/>
</g>
<rect x="205.50" y="206.75" width="115.75" height="112.25" fill="none" stroke="#3c3c3c" stroke-width="1.25"/>
<text x="221.07" y="198.80" font-size="15.2" font-weight="normal" fill="#151515" textLength="88.23" lengthAdjust="spacingAndGlyphs" >Nonselective</text>
<text x="193.82" y="216.72" font-size="7.2" font-weight="normal" fill="#303030" textLength="10.45" lengthAdjust="spacingAndGlyphs" >256</text>
<text x="193.82" y="230.75" font-size="7.2" font-weight="normal" fill="#303030" textLength="10.45" lengthAdjust="spacingAndGlyphs" >128</text>
<text x="197.23" y="244.78" font-size="7.2" font-weight="normal" fill="#303030" textLength="6.97" lengthAdjust="spacingAndGlyphs" >64</text>
<text x="197.36" y="258.81" font-size="7.2" font-weight="normal" fill="#303030" textLength="6.97" lengthAdjust="spacingAndGlyphs" >32</text>
<text x="197.30" y="272.84" font-size="7.2" font-weight="normal" fill="#303030" textLength="6.97" lengthAdjust="spacingAndGlyphs" >16</text>
<text x="200.77" y="286.87" font-size="7.2" font-weight="normal" fill="#303030" textLength="3.48" lengthAdjust="spacingAndGlyphs" >8</text>
<text x="200.71" y="300.90" font-size="7.2" font-weight="normal" fill="#303030" textLength="3.48" lengthAdjust="spacingAndGlyphs" >4</text>
<text x="200.74" y="314.93" font-size="7.2" font-weight="normal" fill="#303030" textLength="3.48" lengthAdjust="spacingAndGlyphs" >0</text>
<text x="210.98" y="325.80" font-size="7.2" font-weight="normal" fill="#303030" textLength="3.48" lengthAdjust="spacingAndGlyphs" >0</text>
<text x="225.46" y="325.80" font-size="7.2" font-weight="normal" fill="#303030" textLength="3.48" lengthAdjust="spacingAndGlyphs" >5</text>
<text x="238.07" y="325.80" font-size="7.2" font-weight="normal" fill="#303030" textLength="6.97" lengthAdjust="spacingAndGlyphs" >10</text>
<text x="252.62" y="325.80" font-size="7.2" font-weight="normal" fill="#303030" textLength="6.97" lengthAdjust="spacingAndGlyphs" >20</text>
<text x="267.18" y="325.80" font-size="7.2" font-weight="normal" fill="#303030" textLength="6.97" lengthAdjust="spacingAndGlyphs" >40</text>
<text x="281.57" y="325.80" font-size="7.2" font-weight="normal" fill="#303030" textLength="6.97" lengthAdjust="spacingAndGlyphs" >80</text>
<text x="294.21" y="325.80" font-size="7.2" font-weight="normal" fill="#303030" textLength="10.45" lengthAdjust="spacingAndGlyphs" >160</text>
<text x="308.79" y="325.80" font-size="7.2" font-weight="normal" fill="#303030" textLength="10.45" lengthAdjust="spacingAndGlyphs" >320</text>
<text x="233.57" y="337.40" font-size="8.7" font-weight="bold" fill="#1a1a1a" textLength="59.75" lengthAdjust="spacingAndGlyphs" stroke="#1a1a1a" stroke-width="0.2">[CDCA] µg/ml</text>
<text x="184.10" y="298.61" font-size="8.3" font-weight="bold" fill="#1a1a1a" textLength="72.26" lengthAdjust="spacingAndGlyphs" transform="rotate(-90 184.10 298.61)" stroke="#1a1a1a" stroke-width="0.35">[Oxacillin] µg/ml</text>
<clipPath id="cDAla"><rect x="358.30" y="205.80" width="115.45" height="112.30"/></clipPath><g clip-path="url(#cDAla)">
<rect x="358.30" y="205.80" width="15.43" height="15.04" fill="#ffffff"/>
<rect x="372.73" y="205.80" width="15.43" height="15.04" fill="#ffffff"/>
<rect x="387.16" y="205.80" width="15.43" height="15.04" fill="#ffffff"/>
<rect x="401.59" y="205.80" width="15.43" height="15.04" fill="#ffffff"/>
<rect x="416.02" y="205.80" width="15.43" height="15.04" fill="#ffffff"/>
<rect x="430.46" y="205.80" width="15.43" height="15.04" fill="#ffffff"/>
<rect x="444.89" y="205.80" width="15.43" height="15.04" fill="#ffffff"/>
<rect x="459.32" y="205.80" width="15.43" height="15.04" fill="#ffffff"/>
<rect x="358.30" y="219.84" width="15.43" height="15.04" fill="#7c94b6"/>
<rect x="372.73" y="219.84" width="15.43" height="15.04" fill="#8ea3c0"/>
<rect x="387.16" y="219.84" width="15.43" height="15.04" fill="#9eb0c9"/>
<rect x="401.59" y="219.84" width="15.43" height="15.04" fill="#e4e9f0"/>
<rect x="416.02" y="219.84" width="15.43" height="15.04" fill="#d2dae6"/>
<rect x="430.46" y="219.84" width="15.43" height="15.04" fill="#f4f6f9"/>
<rect x="444.89" y="219.84" width="15.43" height="15.04" fill="#bcc8da"/>
<rect x="459.32" y="219.84" width="15.43" height="15.04" fill="#fdfdfe"/>
<rect x="358.30" y="233.88" width="15.43" height="15.04" fill="#5473a0"/>
<rect x="372.73" y="233.88" width="15.43" height="15.04" fill="#627ea8"/>
<rect x="387.16" y="233.88" width="15.43" height="15.04" fill="#8a9fbe"/>
<rect x="401.59" y="233.88" width="15.43" height="15.04" fill="#8ea3c0"/>
<rect x="416.02" y="233.88" width="15.43" height="15.04" fill="#a0b2ca"/>
<rect x="430.46" y="233.88" width="15.43" height="15.04" fill="#aab9d0"/>
<rect x="444.89" y="233.88" width="15.43" height="15.04" fill="#bcc8da"/>
<rect x="459.32" y="233.88" width="15.43" height="15.04" fill="#fdfdfe"/>
<rect x="358.30" y="247.91" width="15.43" height="15.04" fill="#3e6194"/>
<rect x="372.73" y="247.91" width="15.43" height="15.04" fill="#4b6c9b"/>
<rect x="387.16" y="247.91" width="15.43" height="15.04" fill="#5877a2"/>
<rect x="401.59" y="247.91" width="15.43" height="15.04" fill="#8198b9"/>
<rect x="416.02" y="247.91" width="15.43" height="15.04" fill="#8198b9"/>
<rect x="430.46" y="247.91" width="15.43" height="15.04" fill="#aab9d0"/>
<rect x="444.89" y="247.91" width="15.43" height="15.04" fill="#bcc8da"/>
<rect x="459.32" y="247.91" width="15.43" height="15.04" fill="#fdfdfe"/>
<rect x="358.30" y="261.95" width="15.43" height="15.04" fill="#406395"/>
<rect x="372.73" y="261.95" width="15.43" height="15.04" fill="#466898"/>
<rect x="387.16" y="261.95" width="15.43" height="15.04" fill="#6682aa"/>
<rect x="401.59" y="261.95" width="15.43" height="15.04" fill="#748db2"/>
<rect x="416.02" y="261.95" width="15.43" height="15.04" fill="#8ea3c0"/>
<rect x="430.46" y="261.95" width="15.43" height="15.04" fill="#aab9d0"/>
<rect x="444.89" y="261.95" width="15.43" height="15.04" fill="#c0cbdc"/>
<rect x="459.32" y="261.95" width="15.43" height="15.04" fill="#fdfdfe"/>
<rect x="358.30" y="275.99" width="15.43" height="15.04" fill="#406395"/>
<rect x="372.73" y="275.99" width="15.43" height="15.04" fill="#466898"/>
<rect x="387.16" y="275.99" width="15.43" height="15.04" fill="#6682aa"/>
<rect x="401.59" y="275.99" width="15.43" height="15.04" fill="#6d87ae"/>
<rect x="416.02" y="275.99" width="15.43" height="15.04" fill="#a0b2ca"/>
<rect x="430.46" y="275.99" width="15.43" height="15.04" fill="#aab9d0"/>
<rect x="444.89" y="275.99" width="15.43" height="15.04" fill="#c0cbdc"/>
<rect x="459.32" y="275.99" width="15.43" height="15.04" fill="#fdfdfe"/>
<rect x="358.30" y="290.03" width="15.43" height="15.04" fill="#406395"/>
<rect x="372.73" y="290.03" width="15.43" height="15.04" fill="#4b6c9b"/>
<rect x="387.16" y="290.03" width="15.43" height="15.04" fill="#839aba"/>
<rect x="401.59" y="290.03" width="15.43" height="15.04" fill="#9aacc7"/>
<rect x="416.02" y="290.03" width="15.43" height="15.04" fill="#aab9d0"/>
<rect x="430.46" y="290.03" width="15.43" height="15.04" fill="#aab9d0"/>
<rect x="444.89" y="290.03" width="15.43" height="15.04" fill="#c0cbdc"/>
<rect x="459.32" y="290.03" width="15.43" height="15.04" fill="#fdfdfe"/>
<rect x="358.30" y="304.06" width="15.43" height="15.04" fill="#1e4782"/>
<rect x="372.73" y="304.06" width="15.43" height="15.04" fill="#34598e"/>
<rect x="387.16" y="304.06" width="15.43" height="15.04" fill="#506f9e"/>
<rect x="401.59" y="304.06" width="15.43" height="15.04" fill="#5d7ba5"/>
<rect x="416.02" y="304.06" width="15.43" height="15.04" fill="#8a9fbe"/>
<rect x="430.46" y="304.06" width="15.43" height="15.04" fill="#9aacc7"/>
<rect x="444.89" y="304.06" width="15.43" height="15.04" fill="#b7c4d7"/>
<rect x="459.32" y="304.06" width="15.43" height="15.04" fill="#fcfcfd"/>
</g>
<rect x="358.30" y="205.80" width="115.45" height="112.30" fill="none" stroke="#3c3c3c" stroke-width="1.25"/>
<text x="397.43" y="199.00" font-size="15.2" font-weight="normal" fill="#151515" textLength="36.68" lengthAdjust="spacingAndGlyphs" >D-Ala</text>
<text x="350.16" y="215.77" font-size="7.2" font-weight="normal" fill="#303030" textLength="6.97" lengthAdjust="spacingAndGlyphs" >32</text>
<text x="350.10" y="229.81" font-size="7.2" font-weight="normal" fill="#303030" textLength="6.97" lengthAdjust="spacingAndGlyphs" >16</text>
<text x="353.57" y="243.84" font-size="7.2" font-weight="normal" fill="#303030" textLength="3.48" lengthAdjust="spacingAndGlyphs" >8</text>
<text x="353.51" y="257.88" font-size="7.2" font-weight="normal" fill="#303030" textLength="3.48" lengthAdjust="spacingAndGlyphs" >4</text>
<text x="353.64" y="271.92" font-size="7.2" font-weight="normal" fill="#303030" textLength="3.48" lengthAdjust="spacingAndGlyphs" >2</text>
<text x="353.61" y="285.96" font-size="7.2" font-weight="normal" fill="#303030" textLength="3.48" lengthAdjust="spacingAndGlyphs" >1</text>
<text x="348.34" y="299.99" font-size="7.2" font-weight="normal" fill="#303030" textLength="8.71" lengthAdjust="spacingAndGlyphs" >0.5</text>
<text x="353.54" y="314.03" font-size="7.2" font-weight="normal" fill="#303030" textLength="3.48" lengthAdjust="spacingAndGlyphs" >0</text>
<text x="363.76" y="324.90" font-size="7.2" font-weight="normal" fill="#303030" textLength="3.48" lengthAdjust="spacingAndGlyphs" >0</text>
<text x="378.21" y="324.90" font-size="7.2" font-weight="normal" fill="#303030" textLength="3.48" lengthAdjust="spacingAndGlyphs" >5</text>
<text x="390.78" y="324.90" font-size="7.2" font-weight="normal" fill="#303030" textLength="6.97" lengthAdjust="spacingAndGlyphs" >10</text>
<text x="405.29" y="324.90" font-size="7.2" font-weight="normal" fill="#303030" textLength="6.97" lengthAdjust="spacingAndGlyphs" >20</text>
<text x="419.81" y="324.90" font-size="7.2" font-weight="normal" fill="#303030" textLength="6.97" lengthAdjust="spacingAndGlyphs" >40</text>
<text x="434.16" y="324.90" font-size="7.2" font-weight="normal" fill="#303030" textLength="6.97" lengthAdjust="spacingAndGlyphs" >80</text>
<text x="446.76" y="324.90" font-size="7.2" font-weight="normal" fill="#303030" textLength="10.45" lengthAdjust="spacingAndGlyphs" >160</text>
<text x="461.30" y="324.90" font-size="7.2" font-weight="normal" fill="#303030" textLength="10.45" lengthAdjust="spacingAndGlyphs" >320</text>
<text x="386.22" y="336.50" font-size="8.7" font-weight="bold" fill="#1a1a1a" textLength="59.75" lengthAdjust="spacingAndGlyphs" stroke="#1a1a1a" stroke-width="0.2">[CDCA] µg/ml</text>
<text x="339.00" y="309.50" font-size="8.3" font-weight="bold" fill="#1a1a1a" textLength="94.10" lengthAdjust="spacingAndGlyphs" transform="rotate(-90 339.00 309.50)" stroke="#1a1a1a" stroke-width="0.35">[D-Cycloserine] µg/ml</text>
<rect x="483.3" y="82.20" width="17.30" height="18.28" fill="#ffffff"/>
<rect x="483.3" y="99.48" width="17.30" height="18.28" fill="#e8edf2"/>
<rect x="483.3" y="116.76" width="17.30" height="18.28" fill="#d2dae6"/>
<rect x="483.3" y="134.05" width="17.30" height="18.28" fill="#bcc8da"/>
<rect x="483.3" y="151.33" width="17.30" height="18.28" fill="#a5b5cd"/>
<rect x="483.3" y="168.61" width="17.30" height="18.28" fill="#8ea3c0"/>
<rect x="483.3" y="185.89" width="17.30" height="18.28" fill="#7891b4"/>
<rect x="483.3" y="203.17" width="17.30" height="18.28" fill="#627ea8"/>
<rect x="483.3" y="220.45" width="17.30" height="18.28" fill="#4b6c9b"/>
<rect x="483.3" y="237.74" width="17.30" height="18.28" fill="#34598e"/>
<rect x="483.3" y="255.02" width="17.30" height="17.28" fill="#1e4782"/>
<rect x="483.3" y="82.2" width="17.30" height="190.10" fill="none" stroke="#333" stroke-width="1"/>
<text x="502.61" y="95.30" font-size="10.0" font-weight="bold" fill="#111" textLength="16.35" lengthAdjust="spacingAndGlyphs" stroke="#111" stroke-width="0.25">100</text>
<text x="502.91" y="130.05" font-size="10.0" font-weight="bold" fill="#111" textLength="10.90" lengthAdjust="spacingAndGlyphs" stroke="#111" stroke-width="0.25">80</text>
<text x="502.86" y="164.80" font-size="10.0" font-weight="bold" fill="#111" textLength="10.90" lengthAdjust="spacingAndGlyphs" stroke="#111" stroke-width="0.25">60</text>
<text x="503.05" y="199.55" font-size="10.0" font-weight="bold" fill="#111" textLength="10.90" lengthAdjust="spacingAndGlyphs" stroke="#111" stroke-width="0.25">40</text>
<text x="502.86" y="234.30" font-size="10.0" font-weight="bold" fill="#111" textLength="10.90" lengthAdjust="spacingAndGlyphs" stroke="#111" stroke-width="0.25">20</text>
<text x="502.81" y="269.05" font-size="10.0" font-weight="bold" fill="#111" textLength="5.45" lengthAdjust="spacingAndGlyphs" stroke="#111" stroke-width="0.25">0</text>
<text x="524.60" y="135.85" font-size="10.2" font-weight="bold" fill="#111" textLength="84.75" lengthAdjust="spacingAndGlyphs" transform="rotate(90 524.60 135.85)" stroke="#111" stroke-width="0.25">Percent inhibition</text>
<line x1="48.5" y1="367.04" x2="48.5" y2="453.3" stroke="#222" stroke-width="1.1"/>
<line x1="48.5" y1="453.3" x2="177.64000000000001" y2="453.3" stroke="#222" stroke-width="1.1"/>
<line x1="46.3" y1="453.30" x2="48.5" y2="453.30" stroke="#222" stroke-width="1"/>
<text x="45.00" y="456.00" font-size="7.5" text-anchor="end" font-weight="bold" fill="#111" stroke="#111" stroke-width="0.3">2</text>
<line x1="46.3" y1="431.86" x2="48.5" y2="431.86" stroke="#222" stroke-width="1"/>
<text x="45.00" y="434.56" font-size="7.5" text-anchor="end" font-weight="bold" fill="#111" stroke="#111" stroke-width="0.3">4</text>
<line x1="46.3" y1="410.42" x2="48.5" y2="410.42" stroke="#222" stroke-width="1"/>
<text x="45.00" y="413.12" font-size="7.5" text-anchor="end" font-weight="bold" fill="#111" stroke="#111" stroke-width="0.3">6</text>
<line x1="46.3" y1="388.98" x2="48.5" y2="388.98" stroke="#222" stroke-width="1"/>
<text x="45.00" y="391.68" font-size="7.5" text-anchor="end" font-weight="bold" fill="#111" stroke="#111" stroke-width="0.3">8</text>
<line x1="46.3" y1="367.54" x2="48.5" y2="367.54" stroke="#222" stroke-width="1"/>
<text x="45.00" y="370.24" font-size="7.5" text-anchor="end" font-weight="bold" fill="#111" stroke="#111" stroke-width="0.3">10</text>
<line x1="48.50" y1="453.3" x2="48.50" y2="455.5" stroke="#222" stroke-width="1"/>
<text x="48.50" y="464.20" font-size="7.5" text-anchor="middle" font-weight="bold" fill="#111" stroke="#111" stroke-width="0.3">0</text>
<line x1="69.94" y1="453.3" x2="69.94" y2="455.5" stroke="#222" stroke-width="1"/>
<text x="69.94" y="464.20" font-size="7.5" text-anchor="middle" font-weight="bold" fill="#111" stroke="#111" stroke-width="0.3">4</text>
<line x1="91.38" y1="453.3" x2="91.38" y2="455.5" stroke="#222" stroke-width="1"/>
<text x="91.38" y="464.20" font-size="7.5" text-anchor="middle" font-weight="bold" fill="#111" stroke="#111" stroke-width="0.3">8</text>
<line x1="112.82" y1="453.3" x2="112.82" y2="455.5" stroke="#222" stroke-width="1"/>
<text x="112.82" y="464.20" font-size="7.5" text-anchor="middle" font-weight="bold" fill="#111" stroke="#111" stroke-width="0.3">12</text>
<line x1="134.26" y1="453.3" x2="134.26" y2="455.5" stroke="#222" stroke-width="1"/>
<text x="134.26" y="464.20" font-size="7.5" text-anchor="middle" font-weight="bold" fill="#111" stroke="#111" stroke-width="0.3">16</text>
<line x1="155.70" y1="453.3" x2="155.70" y2="455.5" stroke="#222" stroke-width="1"/>
<text x="155.70" y="464.20" font-size="7.5" text-anchor="middle" font-weight="bold" fill="#111" stroke="#111" stroke-width="0.3">20</text>
<line x1="177.14" y1="453.3" x2="177.14" y2="455.5" stroke="#222" stroke-width="1"/>
<text x="177.14" y="464.20" font-size="7.5" text-anchor="middle" font-weight="bold" fill="#111" stroke="#111" stroke-width="0.3">24</text>
<text x="100.03" y="474.20" font-size="7.6" font-weight="bold" fill="#111" textLength="26.79" lengthAdjust="spacingAndGlyphs" stroke="#111" stroke-width="0.3">Time (h)</text>
<text x="30.6" y="409" font-size="7.2" font-weight="bold" fill="#111" stroke="#111" stroke-width="0.3" text-anchor="middle" textLength="39.5" lengthAdjust="spacingAndGlyphs" transform="rotate(-90 30.6 409)">log<tspan font-size="4.6" dy="1.8">10</tspan><tspan dy="-1.8">CFU/ml</tspan></text>
<g opacity="1"><polyline points="48.50,401.63 59.22,402.17 69.94,406.99 80.66,410.63 91.38,414.49 177.14,443.33" fill="none" stroke="#5a5a5a" stroke-width="1.0"/>
<rect x="46.70" y="399.83" width="3.6" height="3.6" fill="#5a5a5a"/>
<rect x="57.42" y="400.37" width="3.6" height="3.6" fill="#5a5a5a"/>
<rect x="68.14" y="405.19" width="3.6" height="3.6" fill="#5a5a5a"/>
<rect x="78.86" y="408.83" width="3.6" height="3.6" fill="#5a5a5a"/>
<rect x="89.58" y="412.69" width="3.6" height="3.6" fill="#5a5a5a"/>
<rect x="175.34" y="441.53" width="3.6" height="3.6" fill="#5a5a5a"/>
</g>
<line x1="80.66" y1="408.81" x2="80.66" y2="413.64" stroke="#e8b0b0" stroke-width="0.8" opacity="0.8"/>
<line x1="79.16" y1="408.81" x2="82.16" y2="408.81" stroke="#e8b0b0" stroke-width="0.8" opacity="0.8"/>
<line x1="79.16" y1="413.64" x2="82.16" y2="413.64" stroke="#e8b0b0" stroke-width="0.8" opacity="0.8"/>
<line x1="177.14" y1="444.72" x2="177.14" y2="449.01" stroke="#e8b0b0" stroke-width="0.8" opacity="0.8"/>
<line x1="175.64" y1="444.72" x2="178.64" y2="444.72" stroke="#e8b0b0" stroke-width="0.8" opacity="0.8"/>
<line x1="175.64" y1="449.01" x2="178.64" y2="449.01" stroke="#e8b0b0" stroke-width="0.8" opacity="0.8"/>
<g opacity="1"><polyline points="48.50,401.63 59.22,402.17 69.94,407.74 80.66,411.28 91.38,414.71 177.14,446.87" fill="none" stroke="#e8b0b0" stroke-width="1.0"/>
<rect x="46.70" y="399.83" width="3.6" height="3.6" fill="#e8b0b0"/>
<rect x="57.42" y="400.37" width="3.6" height="3.6" fill="#e8b0b0"/>
<rect x="68.14" y="405.94" width="3.6" height="3.6" fill="#e8b0b0"/>
<rect x="78.86" y="409.48" width="3.6" height="3.6" fill="#e8b0b0"/>
<rect x="89.58" y="412.91" width="3.6" height="3.6" fill="#e8b0b0"/>
<rect x="175.34" y="445.07" width="3.6" height="3.6" fill="#e8b0b0"/>
</g>
<line x1="59.22" y1="400.56" x2="59.22" y2="403.45" stroke="#e03a3a" stroke-width="0.8" opacity="0.8"/>
<line x1="57.72" y1="400.56" x2="60.72" y2="400.56" stroke="#e03a3a" stroke-width="0.8" opacity="0.8"/>
<line x1="57.72" y1="403.45" x2="60.72" y2="403.45" stroke="#e03a3a" stroke-width="0.8" opacity="0.8"/>
<line x1="80.66" y1="405.06" x2="80.66" y2="408.28" stroke="#e03a3a" stroke-width="0.8" opacity="0.8"/>
<line x1="79.16" y1="405.06" x2="82.16" y2="405.06" stroke="#e03a3a" stroke-width="0.8" opacity="0.8"/>
<line x1="79.16" y1="408.28" x2="82.16" y2="408.28" stroke="#e03a3a" stroke-width="0.8" opacity="0.8"/>
<g opacity="1"><polyline points="48.50,401.63 59.22,401.84 69.94,405.38 80.66,406.78 91.38,405.17 177.14,382.55" fill="none" stroke="#e03a3a" stroke-width="1.0"/>
<circle cx="48.50" cy="401.63" r="1.8" fill="#e03a3a"/>
<circle cx="59.22" cy="401.84" r="1.8" fill="#e03a3a"/>
<circle cx="69.94" cy="405.38" r="1.8" fill="#e03a3a"/>
<circle cx="80.66" cy="406.78" r="1.8" fill="#e03a3a"/>
<circle cx="91.38" cy="405.17" r="1.8" fill="#e03a3a"/>
<circle cx="177.14" cy="382.55" r="1.8" fill="#e03a3a"/>
</g>
<g opacity="1"><polyline points="48.50,401.63 59.22,399.16 69.94,389.94 80.66,379.33 91.38,377.94 177.14,373.65" fill="none" stroke="#2c3e80" stroke-width="1.0"/>
<circle cx="48.50" cy="401.63" r="1.8" fill="#2c3e80"/>
<circle cx="59.22" cy="399.16" r="1.8" fill="#2c3e80"/>
<circle cx="69.94" cy="389.94" r="1.8" fill="#2c3e80"/>
<circle cx="80.66" cy="379.33" r="1.8" fill="#2c3e80"/>
<circle cx="91.38" cy="377.94" r="1.8" fill="#2c3e80"/>
<circle cx="177.14" cy="373.65" r="1.8" fill="#2c3e80"/>
</g>
<line x1="80.66" y1="375.04" x2="80.66" y2="381.48" stroke="#2fa3b8" stroke-width="0.8" opacity="0.8"/>
<line x1="79.16" y1="375.04" x2="82.16" y2="375.04" stroke="#2fa3b8" stroke-width="0.8" opacity="0.8"/>
<line x1="79.16" y1="381.48" x2="82.16" y2="381.48" stroke="#2fa3b8" stroke-width="0.8" opacity="0.8"/>
<g opacity="1"><polyline points="48.50,401.63 59.22,398.84 69.94,389.94 80.66,378.80 91.38,377.94 177.14,373.65" fill="none" stroke="#2fa3b8" stroke-width="1.0"/>
<rect x="46.70" y="399.83" width="3.6" height="3.6" fill="#2fa3b8"/>
<rect x="57.42" y="397.04" width="3.6" height="3.6" fill="#2fa3b8"/>
<rect x="68.14" y="388.14" width="3.6" height="3.6" fill="#2fa3b8"/>
<rect x="78.86" y="377.00" width="3.6" height="3.6" fill="#2fa3b8"/>
<rect x="89.58" y="376.14" width="3.6" height="3.6" fill="#2fa3b8"/>
<rect x="175.34" y="371.85" width="3.6" height="3.6" fill="#2fa3b8"/>
</g>
<g opacity="0.6"><polyline points="48.50,401.63 59.22,399.06 69.94,389.94 80.66,379.87 91.38,378.26 177.14,373.97" fill="none" stroke="#1f8a55" stroke-width="1.0"/>
<rect x="46.70" y="399.83" width="3.6" height="3.6" fill="#1f8a55"/>
<rect x="57.42" y="397.26" width="3.6" height="3.6" fill="#1f8a55"/>
<rect x="68.14" y="388.14" width="3.6" height="3.6" fill="#1f8a55"/>
<rect x="78.86" y="378.07" width="3.6" height="3.6" fill="#1f8a55"/>
<rect x="89.58" y="376.46" width="3.6" height="3.6" fill="#1f8a55"/>
<rect x="175.34" y="372.17" width="3.6" height="3.6" fill="#1f8a55"/>
</g>
<line x1="187.3" y1="373.30" x2="194.8" y2="373.30" stroke="#2fa3b8" stroke-width="1"/>
<ellipse cx="191.00" cy="373.30" rx="1.9" ry="1.5" fill="#2fa3b8"/>
<text x="198.75" y="375.60" font-size="7.6" font-weight="normal" fill="#1c1c1c" textLength="22.75" lengthAdjust="spacingAndGlyphs" >Control</text>
<line x1="187.3" y1="383.05" x2="194.8" y2="383.05" stroke="#1f8a55" stroke-width="1"/>
<ellipse cx="191.00" cy="383.05" rx="1.9" ry="1.5" fill="#1f8a55"/>
<text x="198.75" y="385.35" font-size="7.6" font-weight="normal" fill="#1c1c1c" textLength="27.84" lengthAdjust="spacingAndGlyphs" >CDCA20</text>
<line x1="187.3" y1="392.80" x2="194.8" y2="392.80" stroke="#2c3e80" stroke-width="1"/>
<ellipse cx="191.00" cy="392.80" rx="1.9" ry="1.5" fill="#2c3e80"/>
<text x="198.75" y="395.10" font-size="7.6" font-weight="normal" fill="#1c1c1c" textLength="27.84" lengthAdjust="spacingAndGlyphs" >CDCA40</text>
<line x1="187.3" y1="402.55" x2="194.8" y2="402.55" stroke="#e03a3a" stroke-width="1"/>
<ellipse cx="191.00" cy="402.55" rx="1.9" ry="1.5" fill="#e03a3a"/>
<text x="198.82" y="404.85" font-size="7.6" font-weight="normal" fill="#1c1c1c" textLength="41.17" lengthAdjust="spacingAndGlyphs" >0.25MIC IPM</text>
<line x1="187.3" y1="412.30" x2="194.8" y2="412.30" stroke="#e8b0b0" stroke-width="1"/>
<ellipse cx="191.00" cy="412.30" rx="1.9" ry="1.5" fill="#e8b0b0"/>
<text x="198.82" y="414.60" font-size="7.6" font-weight="normal" fill="#1c1c1c" textLength="73.14" lengthAdjust="spacingAndGlyphs" >0.25MIC IPM+CDCA20</text>
<line x1="187.3" y1="422.05" x2="194.8" y2="422.05" stroke="#5a5a5a" stroke-width="1"/>
<ellipse cx="191.00" cy="422.05" rx="1.9" ry="1.5" fill="#5a5a5a"/>
<text x="198.82" y="424.35" font-size="7.6" font-weight="normal" fill="#1c1c1c" textLength="73.14" lengthAdjust="spacingAndGlyphs" >0.25MIC IPM+CDCA40</text>
<line x1="304.3" y1="367.04" x2="304.3" y2="453.3" stroke="#222" stroke-width="1.1"/>
<line x1="304.3" y1="453.3" x2="433.44000000000005" y2="453.3" stroke="#222" stroke-width="1.1"/>
<line x1="302.1" y1="453.30" x2="304.3" y2="453.30" stroke="#222" stroke-width="1"/>
<text x="300.80" y="456.00" font-size="7.5" text-anchor="end" font-weight="bold" fill="#111" stroke="#111" stroke-width="0.3">2</text>
<line x1="302.1" y1="431.86" x2="304.3" y2="431.86" stroke="#222" stroke-width="1"/>
<text x="300.80" y="434.56" font-size="7.5" text-anchor="end" font-weight="bold" fill="#111" stroke="#111" stroke-width="0.3">4</text>
<line x1="302.1" y1="410.42" x2="304.3" y2="410.42" stroke="#222" stroke-width="1"/>
<text x="300.80" y="413.12" font-size="7.5" text-anchor="end" font-weight="bold" fill="#111" stroke="#111" stroke-width="0.3">6</text>
<line x1="302.1" y1="388.98" x2="304.3" y2="388.98" stroke="#222" stroke-width="1"/>
<text x="300.80" y="391.68" font-size="7.5" text-anchor="end" font-weight="bold" fill="#111" stroke="#111" stroke-width="0.3">8</text>
<line x1="302.1" y1="367.54" x2="304.3" y2="367.54" stroke="#222" stroke-width="1"/>
<text x="300.80" y="370.24" font-size="7.5" text-anchor="end" font-weight="bold" fill="#111" stroke="#111" stroke-width="0.3">10</text>
<line x1="304.30" y1="453.3" x2="304.30" y2="455.5" stroke="#222" stroke-width="1"/>
<text x="304.30" y="464.20" font-size="7.5" text-anchor="middle" font-weight="bold" fill="#111" stroke="#111" stroke-width="0.3">0</text>
<line x1="325.74" y1="453.3" x2="325.74" y2="455.5" stroke="#222" stroke-width="1"/>
<text x="325.74" y="464.20" font-size="7.5" text-anchor="middle" font-weight="bold" fill="#111" stroke="#111" stroke-width="0.3">4</text>
<line x1="347.18" y1="453.3" x2="347.18" y2="455.5" stroke="#222" stroke-width="1"/>
<text x="347.18" y="464.20" font-size="7.5" text-anchor="middle" font-weight="bold" fill="#111" stroke="#111" stroke-width="0.3">8</text>
<line x1="368.62" y1="453.3" x2="368.62" y2="455.5" stroke="#222" stroke-width="1"/>
<text x="368.62" y="464.20" font-size="7.5" text-anchor="middle" font-weight="bold" fill="#111" stroke="#111" stroke-width="0.3">12</text>
<line x1="390.06" y1="453.3" x2="390.06" y2="455.5" stroke="#222" stroke-width="1"/>
<text x="390.06" y="464.20" font-size="7.5" text-anchor="middle" font-weight="bold" fill="#111" stroke="#111" stroke-width="0.3">16</text>
<line x1="411.50" y1="453.3" x2="411.50" y2="455.5" stroke="#222" stroke-width="1"/>
<text x="411.50" y="464.20" font-size="7.5" text-anchor="middle" font-weight="bold" fill="#111" stroke="#111" stroke-width="0.3">20</text>
<line x1="432.94" y1="453.3" x2="432.94" y2="455.5" stroke="#222" stroke-width="1"/>
<text x="432.94" y="464.20" font-size="7.5" text-anchor="middle" font-weight="bold" fill="#111" stroke="#111" stroke-width="0.3">24</text>
<text x="355.53" y="474.20" font-size="7.6" font-weight="bold" fill="#111" textLength="26.79" lengthAdjust="spacingAndGlyphs" stroke="#111" stroke-width="0.3">Time (h)</text>
<text x="287.40000000000003" y="409" font-size="7.2" font-weight="bold" fill="#111" stroke="#111" stroke-width="0.3" text-anchor="middle" textLength="39.5" lengthAdjust="spacingAndGlyphs" transform="rotate(-90 287.40000000000003 409)">log<tspan font-size="4.6" dy="1.8">10</tspan><tspan dy="-1.8">CFU/ml</tspan></text>
<line x1="347.18" y1="412.56" x2="347.18" y2="421.14" stroke="#5a5a5a" stroke-width="0.8" opacity="0.8"/>
<line x1="345.68" y1="412.56" x2="348.68" y2="412.56" stroke="#5a5a5a" stroke-width="0.8" opacity="0.8"/>
<line x1="345.68" y1="421.14" x2="348.68" y2="421.14" stroke="#5a5a5a" stroke-width="0.8" opacity="0.8"/>
<line x1="368.62" y1="417.39" x2="368.62" y2="423.28" stroke="#5a5a5a" stroke-width="0.8" opacity="0.8"/>
<line x1="367.12" y1="417.39" x2="370.12" y2="417.39" stroke="#5a5a5a" stroke-width="0.8" opacity="0.8"/>
<line x1="367.12" y1="423.28" x2="370.12" y2="423.28" stroke="#5a5a5a" stroke-width="0.8" opacity="0.8"/>
<g opacity="1"><polyline points="304.30,402.06 315.02,404.52 325.74,406.67 347.18,416.85 368.62,420.07 432.94,429.50" fill="none" stroke="#5a5a5a" stroke-width="1.0"/>
<rect x="302.50" y="400.26" width="3.6" height="3.6" fill="#5a5a5a"/>
<rect x="313.22" y="402.72" width="3.6" height="3.6" fill="#5a5a5a"/>
<rect x="323.94" y="404.87" width="3.6" height="3.6" fill="#5a5a5a"/>
<rect x="345.38" y="415.05" width="3.6" height="3.6" fill="#5a5a5a"/>
<rect x="366.82" y="418.27" width="3.6" height="3.6" fill="#5a5a5a"/>
<rect x="431.14" y="427.70" width="3.6" height="3.6" fill="#5a5a5a"/>
</g>
<line x1="325.74" y1="402.92" x2="325.74" y2="410.42" stroke="#e8b0b0" stroke-width="0.8" opacity="0.8"/>
<line x1="324.24" y1="402.92" x2="327.24" y2="402.92" stroke="#e8b0b0" stroke-width="0.8" opacity="0.8"/>
<line x1="324.24" y1="410.42" x2="327.24" y2="410.42" stroke="#e8b0b0" stroke-width="0.8" opacity="0.8"/>
<line x1="368.62" y1="413.10" x2="368.62" y2="419.00" stroke="#e8b0b0" stroke-width="0.8" opacity="0.8"/>
<line x1="367.12" y1="413.10" x2="370.12" y2="413.10" stroke="#e8b0b0" stroke-width="0.8" opacity="0.8"/>
<line x1="367.12" y1="419.00" x2="370.12" y2="419.00" stroke="#e8b0b0" stroke-width="0.8" opacity="0.8"/>
<g opacity="1"><polyline points="304.30,402.06 315.02,404.85 325.74,406.13 347.18,410.63 368.62,415.78 432.94,427.04" fill="none" stroke="#e8b0b0" stroke-width="1.0"/>
<rect x="302.50" y="400.26" width="3.6" height="3.6" fill="#e8b0b0"/>
<rect x="313.22" y="403.05" width="3.6" height="3.6" fill="#e8b0b0"/>
<rect x="323.94" y="404.33" width="3.6" height="3.6" fill="#e8b0b0"/>
<rect x="345.38" y="408.83" width="3.6" height="3.6" fill="#e8b0b0"/>
<rect x="366.82" y="413.98" width="3.6" height="3.6" fill="#e8b0b0"/>
<rect x="431.14" y="425.24" width="3.6" height="3.6" fill="#e8b0b0"/>
</g>
<line x1="368.62" y1="378.80" x2="368.62" y2="390.05" stroke="#e03a3a" stroke-width="0.8" opacity="0.8"/>
<line x1="367.12" y1="378.80" x2="370.12" y2="378.80" stroke="#e03a3a" stroke-width="0.8" opacity="0.8"/>
<line x1="367.12" y1="390.05" x2="370.12" y2="390.05" stroke="#e03a3a" stroke-width="0.8" opacity="0.8"/>
<g opacity="1"><polyline points="304.30,402.06 315.02,406.13 325.74,409.88 347.18,404.31 368.62,384.69 432.94,376.97" fill="none" stroke="#e03a3a" stroke-width="1.0"/>
<circle cx="304.30" cy="402.06" r="1.8" fill="#e03a3a"/>
<circle cx="315.02" cy="406.13" r="1.8" fill="#e03a3a"/>
<circle cx="325.74" cy="409.88" r="1.8" fill="#e03a3a"/>
<circle cx="347.18" cy="404.31" r="1.8" fill="#e03a3a"/>
<circle cx="368.62" cy="384.69" r="1.8" fill="#e03a3a"/>
<circle cx="432.94" cy="376.97" r="1.8" fill="#e03a3a"/>
</g>
<line x1="347.18" y1="376.12" x2="347.18" y2="385.76" stroke="#1f8a55" stroke-width="0.8" opacity="0.8"/>
<line x1="345.68" y1="376.12" x2="348.68" y2="376.12" stroke="#1f8a55" stroke-width="0.8" opacity="0.8"/>
<line x1="345.68" y1="385.76" x2="348.68" y2="385.76" stroke="#1f8a55" stroke-width="0.8" opacity="0.8"/>
<g opacity="1"><polyline points="304.30,402.06 315.02,399.70 325.74,388.77 347.18,380.94 368.62,376.76 432.94,374.72" fill="none" stroke="#1f8a55" stroke-width="1.0"/>
<rect x="302.50" y="400.26" width="3.6" height="3.6" fill="#1f8a55"/>
<rect x="313.22" y="397.90" width="3.6" height="3.6" fill="#1f8a55"/>
<rect x="323.94" y="386.97" width="3.6" height="3.6" fill="#1f8a55"/>
<rect x="345.38" y="379.14" width="3.6" height="3.6" fill="#1f8a55"/>
<rect x="366.82" y="374.96" width="3.6" height="3.6" fill="#1f8a55"/>
<rect x="431.14" y="372.92" width="3.6" height="3.6" fill="#1f8a55"/>
</g>
<g opacity="1"><polyline points="304.30,402.06 315.02,399.16 325.74,387.91 347.18,376.97 368.62,375.69 432.94,373.97" fill="none" stroke="#2c3e80" stroke-width="1.0"/>
<circle cx="304.30" cy="402.06" r="1.8" fill="#2c3e80"/>
<circle cx="315.02" cy="399.16" r="1.8" fill="#2c3e80"/>
<circle cx="325.74" cy="387.91" r="1.8" fill="#2c3e80"/>
<circle cx="347.18" cy="376.97" r="1.8" fill="#2c3e80"/>
<circle cx="368.62" cy="375.69" r="1.8" fill="#2c3e80"/>
<circle cx="432.94" cy="373.97" r="1.8" fill="#2c3e80"/>
</g>
<line x1="347.18" y1="373.97" x2="347.18" y2="379.33" stroke="#2fa3b8" stroke-width="0.8" opacity="0.8"/>
<line x1="345.68" y1="373.97" x2="348.68" y2="373.97" stroke="#2fa3b8" stroke-width="0.8" opacity="0.8"/>
<line x1="345.68" y1="379.33" x2="348.68" y2="379.33" stroke="#2fa3b8" stroke-width="0.8" opacity="0.8"/>
<g opacity="0.75"><polyline points="304.30,402.06 315.02,398.84 325.74,387.69 347.18,376.76 368.62,375.47 432.94,373.65" fill="none" stroke="#2fa3b8" stroke-width="1.0"/>
<rect x="302.50" y="400.26" width="3.6" height="3.6" fill="#2fa3b8"/>
<rect x="313.22" y="397.04" width="3.6" height="3.6" fill="#2fa3b8"/>
<rect x="323.94" y="385.89" width="3.6" height="3.6" fill="#2fa3b8"/>
<rect x="345.38" y="374.96" width="3.6" height="3.6" fill="#2fa3b8"/>
<rect x="366.82" y="373.67" width="3.6" height="3.6" fill="#2fa3b8"/>
<rect x="431.14" y="371.85" width="3.6" height="3.6" fill="#2fa3b8"/>
</g>
<line x1="441.4" y1="374.20" x2="448.9" y2="374.20" stroke="#2fa3b8" stroke-width="1"/>
<ellipse cx="445.10" cy="374.20" rx="1.9" ry="1.5" fill="#2fa3b8"/>
<text x="452.85" y="376.50" font-size="7.6" font-weight="normal" fill="#1c1c1c" textLength="22.75" lengthAdjust="spacingAndGlyphs" >Control</text>
<line x1="441.4" y1="383.95" x2="448.9" y2="383.95" stroke="#1f8a55" stroke-width="1"/>
<ellipse cx="445.10" cy="383.95" rx="1.9" ry="1.5" fill="#1f8a55"/>
<text x="452.85" y="386.25" font-size="7.6" font-weight="normal" fill="#1c1c1c" textLength="27.84" lengthAdjust="spacingAndGlyphs" >CDCA20</text>
<line x1="441.4" y1="393.70" x2="448.9" y2="393.70" stroke="#2c3e80" stroke-width="1"/>
<ellipse cx="445.10" cy="393.70" rx="1.9" ry="1.5" fill="#2c3e80"/>
<text x="452.85" y="396.00" font-size="7.6" font-weight="normal" fill="#1c1c1c" textLength="27.84" lengthAdjust="spacingAndGlyphs" >CDCA40</text>
<line x1="441.4" y1="403.45" x2="448.9" y2="403.45" stroke="#e03a3a" stroke-width="1"/>
<ellipse cx="445.10" cy="403.45" rx="1.9" ry="1.5" fill="#e03a3a"/>
<text x="452.92" y="405.75" font-size="7.6" font-weight="normal" fill="#1c1c1c" textLength="42.74" lengthAdjust="spacingAndGlyphs" >0.25MIC CTX</text>
<line x1="441.4" y1="413.20" x2="448.9" y2="413.20" stroke="#e8b0b0" stroke-width="1"/>
<ellipse cx="445.10" cy="413.20" rx="1.9" ry="1.5" fill="#e8b0b0"/>
<text x="452.92" y="415.50" font-size="7.6" font-weight="normal" fill="#1c1c1c" textLength="74.70" lengthAdjust="spacingAndGlyphs" >0.25MIC CTX+CDCA20</text>
<line x1="441.4" y1="422.95" x2="448.9" y2="422.95" stroke="#5a5a5a" stroke-width="1"/>
<ellipse cx="445.10" cy="422.95" rx="1.9" ry="1.5" fill="#5a5a5a"/>
<text x="452.92" y="425.25" font-size="7.6" font-weight="normal" fill="#1c1c1c" textLength="74.70" lengthAdjust="spacingAndGlyphs" >0.25MIC CTX+CDCA40</text>
</svg></body></html>
